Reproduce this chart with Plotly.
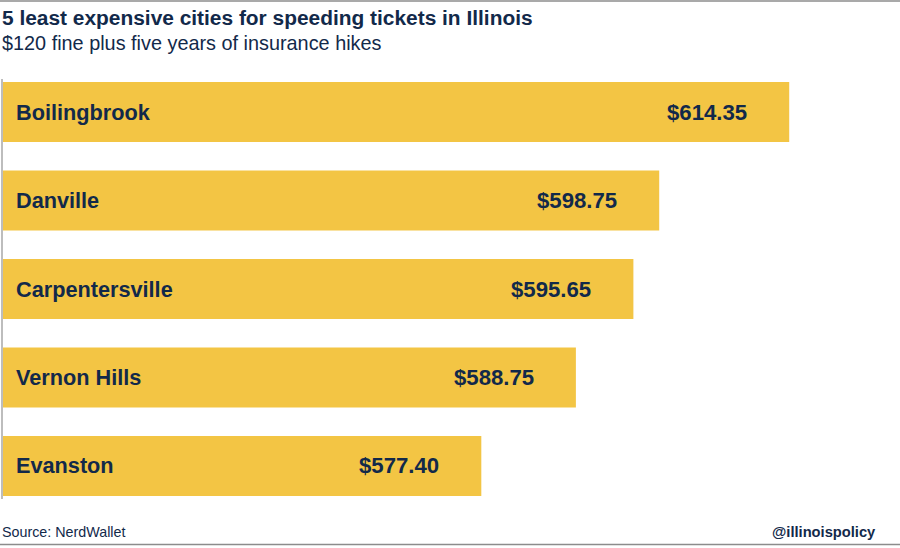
import plotly.graph_objects as go

cities = ["Boilingbrook", "Danville", "Carpentersville", "Vernon Hills", "Evanston"]
costs = [614.35, 598.75, 595.65, 588.75, 577.40]
title = "5 least expensive cities for speeding tickets in Illinois"
subtitle = "$120 fine plus five years of insurance hikes"
source = "Source: NerdWallet"
handle = "@illinoispolicy"

W, H = 900, 548
NAVY = "#12294a"
GOLD = "#f3c544"
GRAY = "#8c8c8c"
FONT = "Liberation Sans"
BASE = 520

fig = go.Figure(go.Bar(
    y=list(range(len(cities))), x=[c - BASE for c in costs], base=BASE, orientation="h",
    width=0.679, marker=dict(color=GOLD, line=dict(width=0)),
    hoverinfo="skip",
))

ann = []
for i, (city, c) in enumerate(zip(cities, costs)):
    ann.append(dict(x=BASE, y=i, xref="x", yref="y", text=f"<b>{city}</b>", showarrow=False,
                    xanchor="left", xshift=11, font=dict(family=FONT, size=21.7, color=NAVY)))
    ann.append(dict(x=c, y=i, xref="x", yref="y", text=f"<b>${c:.2f}</b>", showarrow=False,
                    xanchor="right", xshift=-40, font=dict(family=FONT, size=22.2, color=NAVY)))
ann += [
    dict(x=0, y=1-17/H, xref="paper", yref="paper", text=f"<b>{title}</b>", showarrow=False,
         xanchor="left", yanchor="middle", font=dict(family=FONT, size=20.9, color=NAVY)),
    dict(x=0, y=1-43/H, xref="paper", yref="paper", text=subtitle, showarrow=False,
         xanchor="left", yanchor="middle", font=dict(family=FONT, size=19.85, color=NAVY)),
    dict(x=0, y=1-532/H, xref="paper", yref="paper", text=source, showarrow=False,
         xanchor="left", yanchor="middle", font=dict(family=FONT, size=14.3, color=NAVY)),
    dict(x=878/W, y=1-532/H, xref="paper", yref="paper", text=f"<b>{handle}</b>", showarrow=False,
         xanchor="right", yanchor="middle", font=dict(family=FONT, size=14.7, color=NAVY)),
]

shapes = [
    dict(type="line", xref="paper", yref="paper", x0=0, x1=1, y0=1-1/H, y1=1-1/H, line=dict(color=GRAY, width=1.3)),
    dict(type="line", xref="paper", yref="paper", x0=0, x1=1, y0=1-544.5/H, y1=1-544.5/H, line=dict(color=GRAY, width=1.3)),
]

fig.update_layout(
    width=W, height=H, margin=dict(l=0, r=0, t=0, b=0),
    paper_bgcolor="white", plot_bgcolor="white", showlegend=False,
    annotations=ann, shapes=shapes,
    xaxis=dict(domain=[3/W, 1], range=[BASE, BASE + 897/8.333], visible=False),
    yaxis=dict(domain=[1-499/H, 1-79/H], range=[4.373, -0.373], showticklabels=False, ticks="",
               showgrid=False, zeroline=False, showline=True, linecolor="#bdbdbd", linewidth=2),
)
fig.write_html("out.html", config={"displayModeBar": False},
               post_script="document.body.style.margin='0';document.documentElement.style.overflow='hidden';")
